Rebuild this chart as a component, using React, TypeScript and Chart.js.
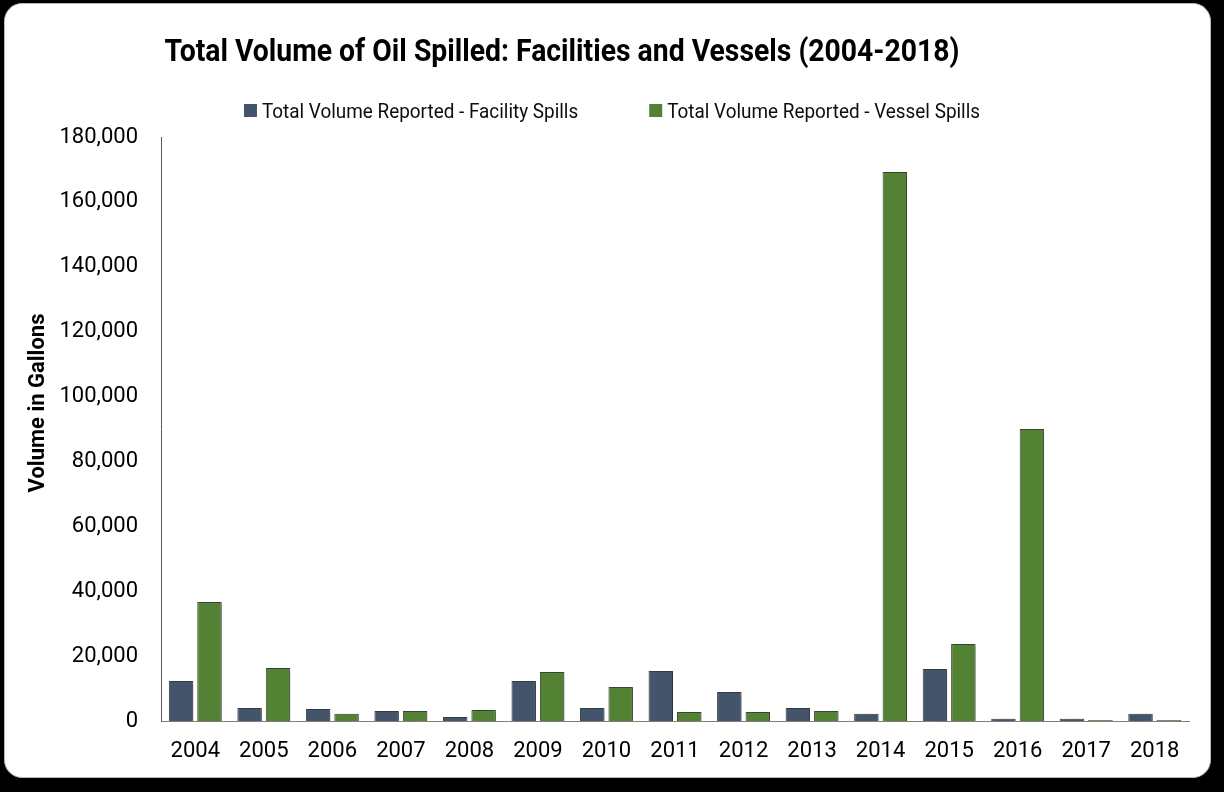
import React, { useEffect, useRef } from "react";
import { Chart, registerables } from "chart.js";

Chart.register(...registerables);

const years = ["2004", "2005", "2006", "2007", "2008", "2009", "2010", "2011", "2012", "2013", "2014", "2015", "2016", "2017", "2018"];
const facilitySpills = [12300, 4000, 3700, 3100, 1200, 12300, 4000, 15400, 8900, 4000, 2200, 16000, 700, 700, 2200];
const vesselSpills = [36700, 16300, 2200, 3100, 3400, 15100, 10500, 2800, 2800, 3100, 169200, 23700, 90000, 300, 300];
const seriesNames = ["Total Volume Reported - Facility Spills", "Total Volume Reported - Vessel Spills"];
const chartTitle = "Total Volume of Oil Spilled: Facilities and Vessels (2004-2018)";
const yAxisTitle = "Volume in Gallons";

const FONT = '"Liberation Sans Narrow", "Arial Narrow", "Roboto", sans-serif';

// Draws text squeezed horizontally so it takes a given width (a condensed look)
function fillCondensed(ctx: CanvasRenderingContext2D, text: string, x: number, y: number, squeeze: number) {
  ctx.save();
  ctx.translate(x, y);
  ctx.scale(squeeze, 1);
  ctx.fillText(text, 0, 0);
  ctx.restore();
}

// Title, legend and rotated axis title drawn straight onto the canvas
const decorPlugin = {
  id: "decor",
  afterDraw(chart: any) {
    const ctx = chart.ctx as CanvasRenderingContext2D;
    ctx.save();

    // chart title
    ctx.fillStyle = "#000000";
    ctx.font = `bold 32px ${FONT}`;
    ctx.textAlign = "left";
    ctx.textBaseline = "alphabetic";
    const titleWidth = 795;
    const tw = ctx.measureText(chartTitle).width;
    const tSqueeze = Math.min(1, titleWidth / tw);
    fillCondensed(ctx, chartTitle, 562 - (tw * tSqueeze) / 2, 61, tSqueeze);

    // legend
    ctx.font = `20px ${FONT}`;
    const ds = chart.data.datasets;
    const box = 13;
    const boxGap = 5;
    const itemGap = 71;
    const squeeze = 0.945;
    const widths = ds.map((d: any) => box + boxGap + ctx.measureText(d.label).width * squeeze);
    const total = widths.reduce((a: number, b: number) => a + b, 0) + itemGap * (ds.length - 1);
    let x = 612 - total / 2;
    ds.forEach((d: any, i: number) => {
      ctx.fillStyle = d.backgroundColor;
      ctx.fillRect(x, 104, box, box);
      ctx.fillStyle = "#0d0d0d";
      fillCondensed(ctx, d.label, x + box + boxGap, 118, squeeze);
      x += widths[i] + itemGap;
    });

    // y axis title
    ctx.translate(38, 403);
    ctx.rotate(-Math.PI / 2);
    ctx.textAlign = "center";
    ctx.textBaseline = "middle";
    ctx.font = `bold 22px ${FONT}`;
    ctx.fillStyle = "#000000";
    const aw = ctx.measureText(yAxisTitle).width;
    ctx.scale(Math.min(1, 185 / aw), 1);
    ctx.fillText(yAxisTitle, 0, 0);
    ctx.restore();
  },
};

// Soft drop shadow behind the bars
const barShadowPlugin = {
  id: "barShadow",
  beforeDatasetsDraw(chart: any) {
    const ctx = chart.ctx as CanvasRenderingContext2D;
    ctx.save();
    ctx.shadowColor = "rgba(0,0,0,0.28)";
    ctx.shadowBlur = 5;
    ctx.shadowOffsetX = 3;
    ctx.shadowOffsetY = 1;
  },
  afterDatasetsDraw(chart: any) {
    chart.ctx.restore();
  },
};

export default function App() {
  const canvasRef = useRef<HTMLCanvasElement | null>(null);

  useEffect(() => {
    if (!canvasRef.current) return;
    const chart = new Chart(canvasRef.current, {
      type: "bar",
      data: {
        labels: years,
        datasets: [
          {
            label: seriesNames[0],
            data: facilitySpills,
            backgroundColor: "#44546A",
            borderColor: "#3a3f46",
            borderWidth: 1,
            categoryPercentage: 0.83,
            barPercentage: 0.86,
          },
          {
            label: seriesNames[1],
            data: vesselSpills,
            backgroundColor: "#548235",
            borderColor: "#3c4a33",
            borderWidth: 1,
            categoryPercentage: 0.83,
            barPercentage: 0.86,
          },
        ],
      },
      options: {
        responsive: false,
        animation: false,
        devicePixelRatio: 1,
        layout: { padding: { left: 0, right: 35, top: 137, bottom: 0 } },
        plugins: {
          legend: { display: false },
          title: { display: false },
          tooltip: { enabled: false },
        },
        scales: {
          x: {
            grid: { display: false, drawTicks: false },
            border: { display: true, color: "#7f7f7f", width: 1 },
            ticks: {
              color: "#000000",
              font: { family: FONT, size: 22 },
              padding: 17,
              maxRotation: 0,
            },
            afterFit(scale: any) {
              scale.height = 71;
            },
          },
          y: {
            min: 0,
            max: 180000,
            grid: { display: false, drawTicks: false },
            border: { display: true, color: "#595959", width: 1 },
            ticks: {
              stepSize: 20000,
              color: "#000000",
              font: { family: FONT, size: 22 },
              padding: 23,
              callback: (v: any) => Number(v).toLocaleString("en-US"),
            },
            afterFit(scale: any) {
              scale.width = 161;
            },
          },
        },
      },
      plugins: [barShadowPlugin, decorPlugin],
    });
    return () => chart.destroy();
  }, []);

  return (
    <div style={{ position: "absolute", left: 0, top: 0, width: 1224, height: 792, background: "#000000", overflow: "hidden" }}>
      <div
        style={{
          position: "absolute",
          left: 4,
          top: 3,
          width: 1205,
          height: 773,
          background: "#ffffff",
          borderRadius: 18,
          border: "1px solid #b8b8b8",
        }}
      />
      <canvas ref={canvasRef} width={1224} height={792} style={{ position: "absolute", left: 0, top: 0 }} />
    </div>
  );
}
